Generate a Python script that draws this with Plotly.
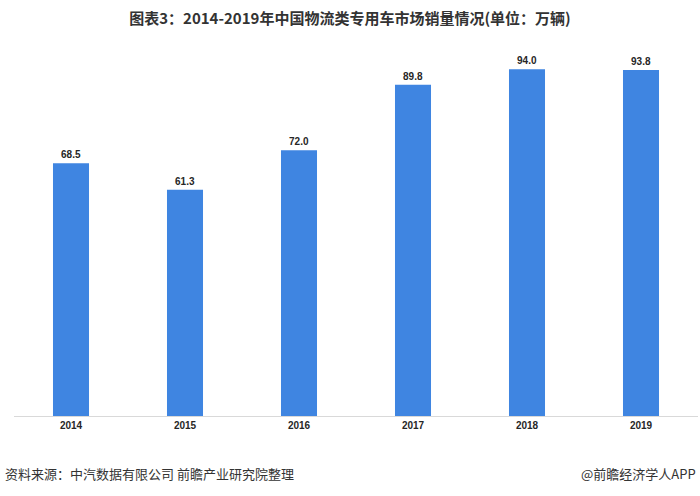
import plotly.graph_objects as go

years = ["2014", "2015", "2016", "2017", "2018", "2019"]
sales = [68.5, 61.3, 72.0, 89.8, 94.0, 93.8]
labels = ["68.5", "61.3", "72.0", "89.8", "94.0", "93.8"]

title = "图表3：2014-2019年中国物流类专用车市场销量情况(单位：万辆)"
source = "资料来源：中汽数据有限公司 前瞻产业研究院整理"
brand = "@前瞻经济学人APP"

fig = go.Figure(go.Bar(
    x=years, y=sales, text=labels, textposition="outside",
    textfont=dict(family="Arial Black, Liberation Sans, sans-serif", size=10, color="#262626"),
    marker=dict(color="#3F85E1", line=dict(width=0)),
    width=0.316, cliponaxis=False,
))

fig.update_layout(
    width=700, height=496,
    margin=dict(l=14, r=2, t=50, b=80),
    paper_bgcolor="white", plot_bgcolor="white",
    showlegend=False,
    title=dict(text="<b>" + title + "</b>", x=0.5, xanchor="center", y=0.963, yanchor="middle",
               font=dict(family="Noto Sans CJK SC, sans-serif", size=15, color="#333333")),
    xaxis=dict(showline=True, linecolor="#D9D9D9", linewidth=1, ticks="",
               tickfont=dict(family="Liberation Sans, Arial, sans-serif", size=10, color="#262626"),
               tickprefix="<b>", ticksuffix="</b>"),
    yaxis=dict(range=[0, 99.2], visible=False, showgrid=False),
    bargap=0.684,
)
fig.update_traces(texttemplate="<b>%{text}</b>")

fig.add_annotation(text=source, xref="paper", yref="paper", x=-0.016, y=-0.158, xanchor="left", yanchor="middle",
                   showarrow=False, font=dict(family="Noto Sans CJK SC, sans-serif", size=13, color="#333333"))
fig.add_annotation(text=brand, xref="paper", yref="paper", x=1.0, y=-0.158, xanchor="right", yanchor="middle",
                   showarrow=False, font=dict(family="Noto Sans CJK SC, sans-serif", size=13, color="#333333"))

fig.write_html("out.html")
